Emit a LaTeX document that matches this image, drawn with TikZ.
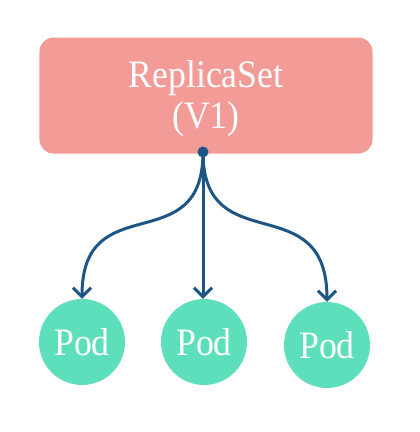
\documentclass[tikz,border=0pt]{standalone}
\usepackage{fontspec}
\setmainfont{Liberation Serif}
\newfontfamily\diagfont[FakeStretch=0.92]{Liberation Serif}
\usetikzlibrary{arrows.meta}
\definecolor{rsfill}{HTML}{F29B97}
\definecolor{podfill}{HTML}{5DDFBC}
\definecolor{arrowblue}{HTML}{1D5585}
\begin{document}
\begin{tikzpicture}[x=1bp,y=-1bp,
  rsbox/.style={fill=rsfill, draw=none, rounded corners=14bp, minimum width=333bp, minimum height=116bp, inner sep=0pt},
  rstext/.style={inner sep=0pt, text=white, align=center, font=\diagfont\fontsize{39}{41}\selectfont},
  podnode/.style={circle, fill=podfill, draw=none, minimum size=86bp, inner sep=0pt, text=white, font=\diagfont\fontsize{39}{40}\selectfont},
  link/.style={draw=arrowblue, line width=3bp, -{Straight Barb[length=9bp,width=18bp,line width=3bp]}}
]
\useasboundingbox (0,0) rectangle (420,432);
\node[rsbox] (rs) at (206,95.5) {};
\node[rstext] (rslabel) at (206,99) {ReplicaSet\\(V1)};
\coordinate (hub) at (203,152);
\node[podnode] (p1) at (82,342) {Pod};
\node[podnode] (p2) at (204,342) {Pod};
\node[podnode] (p3) at (327,345) {Pod};
\draw[link] (hub) .. controls (203,262) and (82,185) .. (p1.north);
\draw[link] (hub) -- (hub |- p2.north);
\draw[link] (hub) .. controls (203,262) and (327,185) .. (p3.north);
\fill[arrowblue] (hub) circle (5.5bp);
\end{tikzpicture}
\end{document}
